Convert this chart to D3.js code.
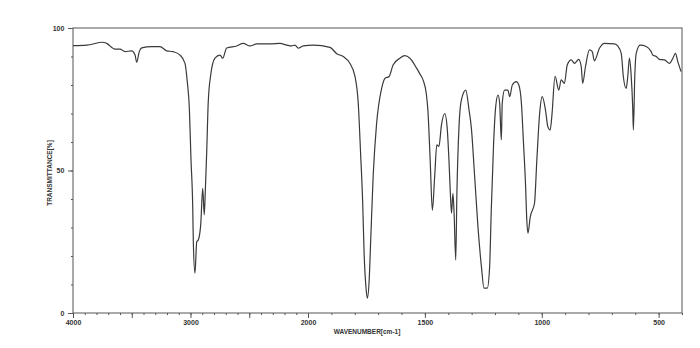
<!DOCTYPE html>
<html>
<head>
<meta charset="utf-8">
<script src="https://cdn.jsdelivr.net/npm/d3@7"></script>
<style>
  body { margin: 0; background: #fff; }
  svg text { font-family: "Liberation Sans", Arial, sans-serif; font-weight: bold; fill: #333; }
</style>
</head>
<body>
<div id="spectrum"></div>
<script>
// wavenumber (cm-1) and transmittance (%)
var wavenumbers = [4000, 3883, 3745, 3713, 3643, 3600, 3557, 3500, 3472, 3458, 3436, 3415, 3330, 3260, 3203, 3149, 3089, 3047, 3027, 3010, 2996, 2981, 2976, 2962, 2947, 2934, 2913, 2896, 2883, 2874, 2862, 2849, 2828, 2792, 2749, 2726, 2692, 2607, 2551, 2494, 2437, 2323, 2238, 2181, 2139, 2111, 2083, 2040,
  1977, 1906, 1877, 1849, 1821, 1799, 1785, 1775, 1766, 1760, 1752, 1746, 1738, 1732, 1721, 1707, 1685, 1671, 1653, 1636, 1607, 1586, 1564, 1536, 1522, 1508, 1494, 1487, 1477, 1468, 1458, 1449, 1440, 1429, 1415, 1405, 1397, 1391, 1386, 1380, 1375, 1368, 1363, 1354, 1344, 1325, 1311, 1301, 1287, 1273, 1258, 1247, 1233, 1223, 1216, 1206, 1197, 1187, 1180, 1173, 1169, 1159, 1145, 1137, 1126, 1109, 1098, 1087, 1078, 1069, 1064, 1059, 1049, 1031, 1021, 1009, 998, 984, 974, 964, 957, 943, 927, 917, 903, 891, 874, 860, 842, 831, 825, 813, 796, 784, 775, 753, 732, 689, 675, 660, 651, 639, 632, 625, 618, 611, 608, 602, 596, 579, 553, 532, 525, 510, 496, 475, 453, 439, 428, 418, 404];
var transmittance = [93.8, 94, 95, 94.6, 92.6, 92.6, 91.7, 92, 90.5, 88, 91.7, 93, 93.5, 93.5, 92, 91.7, 90.5, 87.6, 81, 72, 54, 37, 25, 14, 25, 25.6, 31, 43.7, 34.4, 42.6, 56.6, 74, 83.5, 89.4, 90.5, 89.4, 93, 93.7, 94.6, 93.7, 94.4, 94.4, 94.6, 94, 93.7, 94, 92.9, 93.7,
  94, 93.2, 91, 90, 87.6, 83, 73.6, 56, 38.6, 21, 9, 5.2, 12, 25, 48.4, 66, 78.8, 82.3, 83, 87, 89.4, 90.3, 89.4, 86, 84, 81.8, 77, 71, 53, 36, 48, 59, 58.4, 66, 70, 65.4, 53.7, 42, 35, 42, 35, 18.6, 42, 65.4, 74.7, 78.2, 71.2, 64.8, 47.8, 30.3, 16.2, 8.7, 8.7, 16.2, 36, 59.5, 72.4, 76.5, 73.6, 60.7, 73.6, 78.2, 78.2, 75.9, 80, 81.2, 80, 73.6, 59.5, 44.3, 32.6, 28, 33.8, 38.5, 53.7, 70, 75.9, 71.2, 65.4, 64.2, 68.9, 83, 78.2, 81.8, 80.6, 87, 88.8, 87.6, 89, 86.4, 80.6, 86.4, 92.3, 91.7, 88.5, 92.9, 94.6, 94.4, 93.7, 91.1, 83, 78.8, 83, 89.4, 84, 72.4, 64.2, 83, 91.1, 94, 93.5, 91.7, 90.5, 90, 89, 88.8, 87.6, 89.4, 91.1, 88.2, 84.7];

var xTickLabels = [4000, 3000, 2000, 1500, 1000, 500];
var yTickLabels = [0, 50, 100];

var width = 700, height = 348;
var margin = { top: 28, right: 682, bottom: 313, left: 73 };

var svg = d3.select("#spectrum").append("svg")
  .attr("width", width)
  .attr("height", height);

// the wavenumber axis changes scale at 2000
var x = d3.scaleLinear().domain([4000, 2000, 400]).range([margin.left, 308, margin.right]);
var y = d3.scaleLinear().domain([0, 100]).range([margin.bottom, margin.top]);

// frame
svg.append("rect")
  .attr("x", margin.left).attr("y", margin.top)
  .attr("width", margin.right - margin.left).attr("height", margin.bottom - margin.top)
  .attr("fill", "none").attr("stroke", "#555").attr("stroke-width", 1);

// x ticks every 100
var xMinor = d3.axisBottom(x).tickValues(d3.range(4000, 399, -100))
  .tickSize(2).tickFormat("");
svg.append("g").attr("transform", "translate(0," + margin.bottom + ")").call(xMinor);

var xMajor = d3.axisBottom(x).tickValues(xTickLabels.concat([3500, 2500]))
  .tickSize(5)
  .tickFormat(function (d) { return xTickLabels.indexOf(d) >= 0 ? d : ""; });
var gx = svg.append("g").attr("transform", "translate(0," + margin.bottom + ")").call(xMajor);
gx.selectAll("text").attr("font-size", 7).attr("dy", "0.5em").attr("fill", "#333");

// y ticks every 10
var yMinor = d3.axisLeft(y).tickValues(d3.range(0, 101, 10)).tickSize(2).tickFormat("");
svg.append("g").attr("transform", "translate(" + margin.left + ",0)").call(yMinor);

var yMajor = d3.axisLeft(y).tickValues(yTickLabels).tickSize(5);
var gy = svg.append("g").attr("transform", "translate(" + margin.left + ",0)").call(yMajor);
gy.selectAll("text").attr("font-size", 7).attr("dx", "-0.1em").attr("fill", "#333");

svg.selectAll(".domain").remove();
svg.selectAll(".tick line").attr("stroke", "#555");

// axis titles
svg.append("text")
  .attr("x", 367).attr("y", 334)
  .attr("text-anchor", "middle")
  .attr("font-size", 6.5)
  .text("WAVENUMBER[cm-1]");

svg.append("text")
  .attr("transform", "translate(52,173) rotate(-90)")
  .attr("text-anchor", "middle")
  .attr("font-size", 6.5)
  .text("TRANSMITTANCE[%]");

// spectrum
var points = wavenumbers.map(function (w, i) { return [w, transmittance[i]]; });
var line = d3.line()
  .curve(d3.curveMonotoneX)
  .x(function (d) { return x(d[0]); })
  .y(function (d) { return y(d[1]); });

svg.append("path")
  .datum(points)
  .attr("d", line)
  .attr("fill", "none")
  .attr("stroke", "#3a3a3a")
  .attr("stroke-width", 1.2)
  .attr("stroke-linejoin", "round");
</script>
</body>
</html>
